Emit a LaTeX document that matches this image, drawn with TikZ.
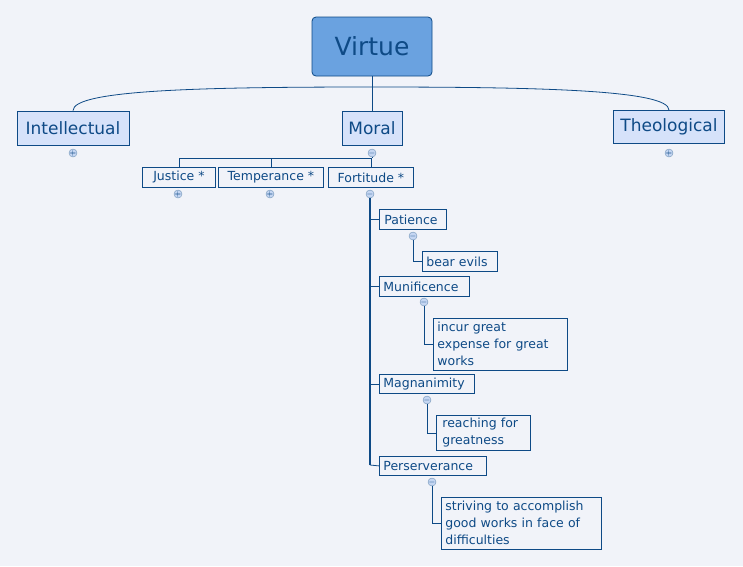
\documentclass[tikz,border=0pt]{standalone}
\usepackage{fontspec}
\setmainfont{DejaVu Sans}
\begin{document}
\definecolor{bg}{HTML}{F1F3F9}
\definecolor{ink}{HTML}{0E4A86}
\definecolor{topfill}{HTML}{6AA2E0}
\definecolor{l1fill}{HTML}{D6E2FA}
\definecolor{knob}{HTML}{C5D6F2}
\begin{tikzpicture}[x=1pt,y=-1pt,
  every node/.style={text=ink},
  topic/.style={draw=ink,fill=bg,thick,inner sep=0pt,font=\fontsize{12.5}{17}\selectfont,anchor=north west,align=left},
  lbl/.style={text=ink,font=\fontsize{12.5}{17}\selectfont},
  main/.style={draw=ink,fill=l1fill,thick,inner sep=0pt,font=\fontsize{17}{19}\selectfont},
  link/.style={draw=ink,thick},
  trunk/.style={draw=ink,line width=1.6pt},
  knobm/.style={circle,draw=ink!60,fill=knob,minimum size=8pt,inner sep=0pt,label={[inner sep=0pt,text=ink,font=\fontsize{8}{8}\selectfont]center:$-$}},
  knobp/.style={knobm,label={[inner sep=0pt,text=ink,font=\fontsize{8}{8}\selectfont]center:$+$}}
]
\fill[bg] (0,0) rectangle (743,566);
\useasboundingbox (0,0) rectangle (743,566);

% root and first level
\node[draw=ink,fill=topfill,rounded corners=4pt,thick,minimum width=120pt,minimum height=59pt,font=\fontsize{25}{27}\selectfont] (virtue) at (372,46.5) {Virtue};
\node[main,minimum width=112pt,minimum height=34pt] (intel) at (73,128) {Intellectual};
\node[main,minimum width=60pt,minimum height=34pt] (moral) at (372,128) {Moral};
\node[main,minimum width=111pt,minimum height=33pt] (theo) at (669,127) {Theological};

\coordinate (hub) at (372,87);
\draw[link] (virtue.south) -- (moral.north);
\draw[link] (hub) .. controls (200,87) and (73,90) .. (intel.north);
\draw[link] (hub) .. controls (540,87) and (669,90) .. (theo.north);

\node[knobp] (ki) at (73,153) {};
\node[knobm] (km) at (372,153) {};
\node[knobp] (kt) at (669,153) {};

% moral children
\node[topic,minimum width=73pt,minimum height=20pt] (just) at (142,167) {};
\node[lbl] at (just.center) {Justice *};
\node[topic,minimum width=105pt,minimum height=20pt] (temp) at (218,167) {};
\node[lbl] at (temp.center) {Temperance *};
\node[topic,minimum width=85pt,minimum height=20pt] (fort) at (328,167) {};
\node[lbl] at (fort.center) {Fortitude *};

\coordinate (bar) at (372,158);
\draw[link] (km) -- (bar);
\draw[link] (just.north) |- (bar);
\draw[link] (temp.north) -- (temp.north |- bar);
\draw[link] (fort.north) -- (fort.north |- bar);

\node[knobp] (kj) at (178,194) {};
\node[knobp] (ktp) at (270,194) {};
\node[knobm] (kf) at (370,194) {};

% fortitude children
\node[topic,minimum width=67pt,minimum height=20pt,text width=67pt] (pat) at (379,209) {\hspace*{5pt}Patience};
\node[topic,minimum width=90pt,minimum height=20pt,text width=90pt] (mun) at (379,276) {\hspace*{4pt}Munificence};
\node[topic,minimum width=95pt,minimum height=19pt,text width=95pt] (mag) at (379,374) {\hspace*{4pt}Magnanimity};
\node[topic,minimum width=107pt,minimum height=19pt,text width=107pt] (per) at (379,456) {\hspace*{4pt}Perserverance};

\coordinate (tend) at (370,465);
\draw[trunk] (kf) -- (tend);
\draw[link] (kf |- pat.west) -- (pat.west);
\draw[link] (kf |- mun.west) -- (mun.west);
\draw[link] (kf |- mag.west) -- (mag.west);
\draw[link] (tend) -- (per.west);

% leaves
\node[knobm] (kpa) at (413,236) {};
\node[knobm] (kmu) at (424,302) {};
\node[knobm] (kma) at (427,400) {};
\node[knobm] (kpe) at (432,482) {};

\node[topic,minimum width=75pt,minimum height=20pt,text width=75pt] (l1) at (422,251) {\hspace*{4pt}bear evils};
\node[topic,minimum width=134pt,minimum height=51pt,inner sep=4pt,text width=126pt] (l2) at (433,318) {incur great\\expense for great\\works};
\node[topic,minimum width=94pt,minimum height=35pt,inner sep=2pt,text width=90pt] (l3) at (436,415) {\hspace*{4pt}reaching for\\\hspace*{4pt}greatness};
\node[topic,minimum width=160pt,minimum height=51pt,inner sep=4pt,text width=152pt] (l4) at (441,497) {striving to accomplish\\good works in face of\\difficulties};

\draw[link] (kpa) |- (l1.west);
\draw[link] (kmu) |- (l2.west);
\draw[link] (kma) |- (l3.west);
\draw[link] (kpe) |- (l4.west);
\end{tikzpicture}
\end{document}
